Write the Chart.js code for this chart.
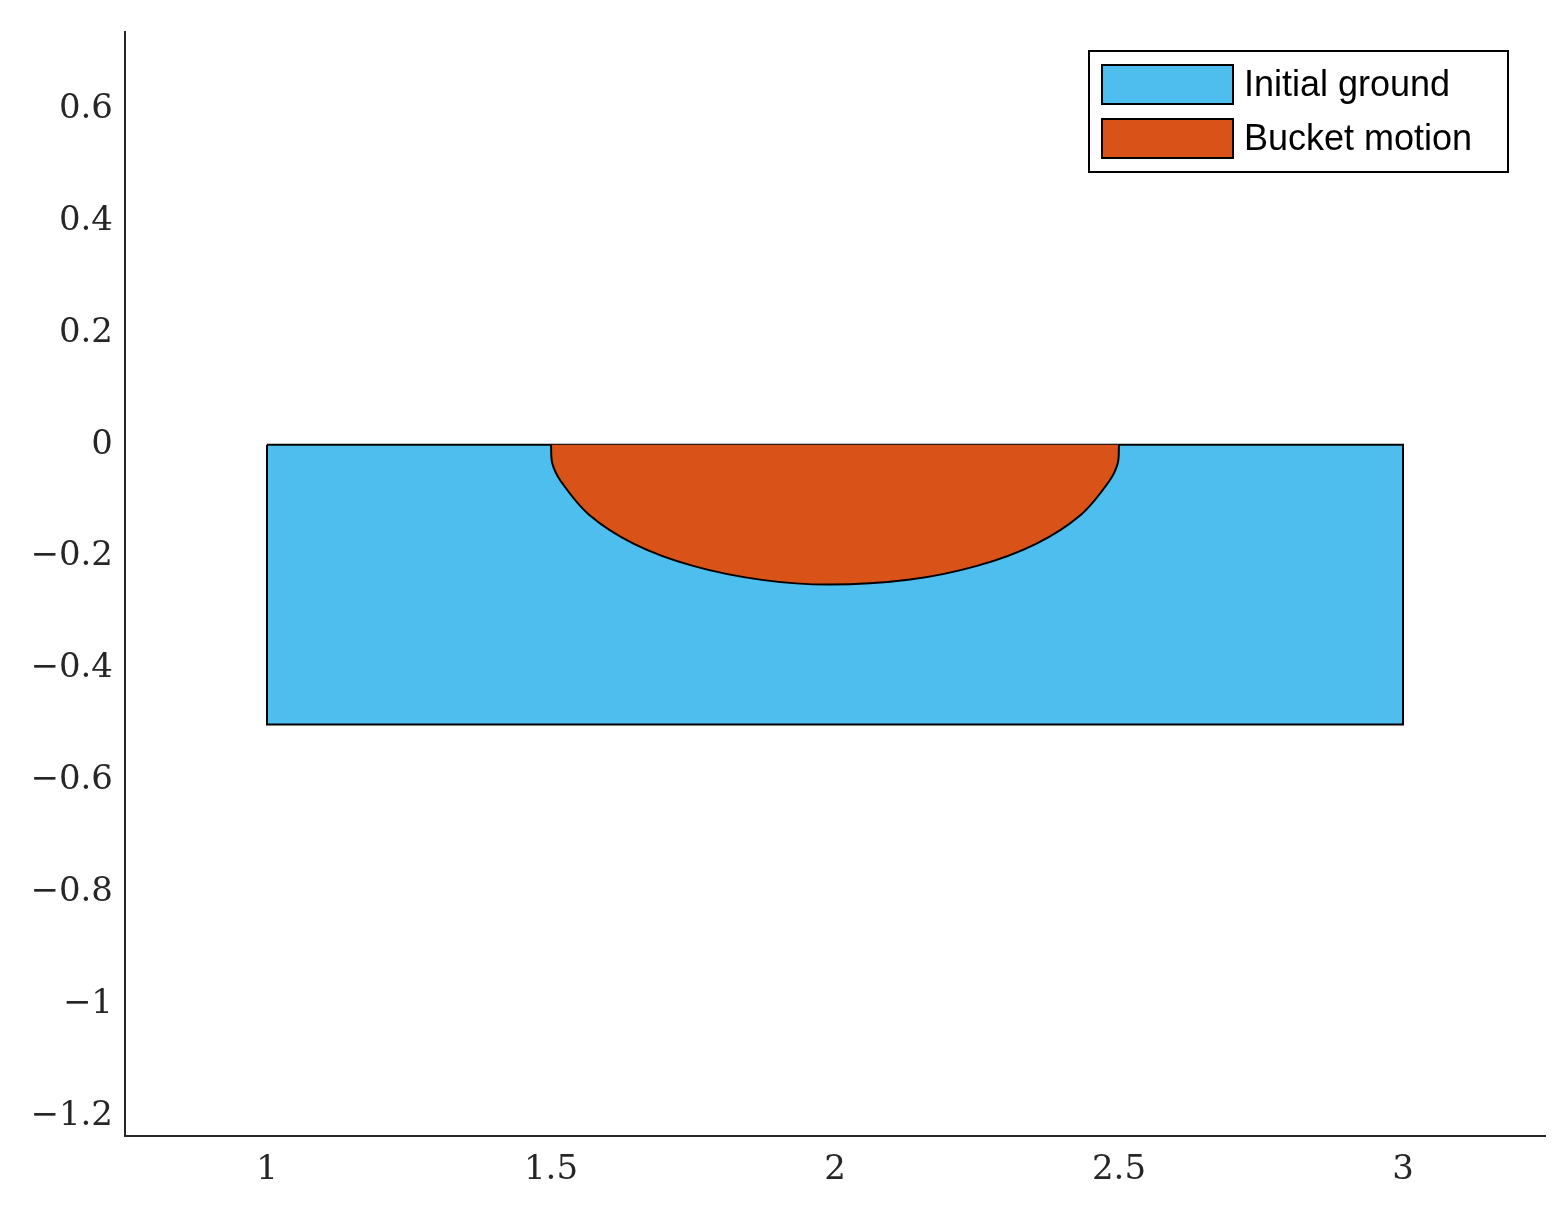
<!DOCTYPE html>
<html><head><meta charset="utf-8">
<script src="https://cdn.jsdelivr.net/npm/chart.js@4"></script>
<style>body{margin:0;background:#fff}#w{width:1555px;height:1209px}</style>
</head><body><div id="w"><canvas id="c"></canvas></div>
<script>
const seriesNames = ["Initial ground", "Bucket motion"];
const groundX = [1, 1, 3, 3, 1];
const groundY = [0, -0.5, -0.5, 0, 0];
const groundBottomX = [1, 3];
const groundBottomY = [-0.5, -0.5];
const bucketX = [1.5, 1.5021, 1.517, 1.567, 1.646, 1.75, 1.871, 1.99, 2.129, 2.25, 2.354, 2.433, 2.483, 2.4979, 2.5];
const bucketY = [0, -0.0326, -0.0647, -0.125, -0.177, -0.2165, -0.2415, -0.25, -0.2415, -0.2165, -0.177, -0.125, -0.0647, -0.0326, 0];
const xTicks = [1, 1.5, 2, 2.5, 3];
const yTicks = [0.6, 0.4, 0.2, 0, -0.2, -0.4, -0.6, -0.8, -1, -1.2];
const colors = ["#4DBEEE", "#D95319"];

const pts = (xs, ys) => xs.map((x, i) => ({x, y: ys[i]}));
const serif = "'DejaVu Serif', serif";

const legendPlugin = {
  id: 'boxLegend',
  afterDraw(chart) {
    const ctx = chart.ctx;
    ctx.save();
    ctx.strokeStyle = '#000'; ctx.lineWidth = 2;
    ctx.fillStyle = '#fff';
    ctx.fillRect(1089, 51, 419, 121);
    ctx.strokeRect(1089, 51, 419, 121);
    ctx.font = "36px 'Liberation Sans', Arial, sans-serif";
    ctx.textBaseline = 'middle';
    seriesNames.forEach((n, i) => {
      const y = 65 + i * 54;
      ctx.fillStyle = colors[i];
      ctx.fillRect(1102, y, 131, 39);
      ctx.strokeRect(1102, y, 131, 39);
      ctx.fillStyle = '#000';
      ctx.fillText(n, 1244, y + 21);
    });
    ctx.restore();
  }
};

new Chart(document.getElementById('c'), {
  type: 'scatter',
  data: { datasets: [
    { label: seriesNames[0], data: pts(groundBottomX, groundBottomY), showLine: true, fill: {value: 0},
      backgroundColor: colors[0], borderWidth: 0, pointRadius: 0, order: 3, tension: 0 },
    { label: seriesNames[0] + ' outline', data: pts(groundX, groundY), showLine: true, fill: false,
      borderColor: '#000', borderWidth: 2, pointRadius: 0, order: 2, tension: 0 },
    { label: seriesNames[1], data: pts(bucketX, bucketY), showLine: true, fill: {value: 0},
      backgroundColor: colors[1], borderColor: '#000', borderWidth: 2, pointRadius: 0, order: 1,
      tension: 0.3 }
  ]},
  options: {
    responsive: true, maintainAspectRatio: false, animation: false,
    layout: { padding: { top: 0, right: 10, left: 0, bottom: 0 } },
    plugins: { legend: { display: false }, tooltip: { enabled: false } },
    scales: {
      x: { type: 'linear', min: 0.75, max: 3.25,
        afterBuildTicks: s => { s.ticks = xTicks.map(v => ({value: v})); },
        afterFit: s => { s.height = 73; },
        grid: { display: false, drawTicks: false },
        border: { color: '#262626', width: 2 },
        ticks: { color: '#262626', font: { family: serif, size: 34 }, padding: 14, maxRotation: 0,
          callback: v => String(v) } },
      y: { type: 'linear', min: -1.236, max: 0.7375,
        afterBuildTicks: s => { s.ticks = yTicks.map(v => ({value: v})); },
        afterFit: s => { s.width = 125; },
        grid: { display: false, drawTicks: false },
        border: { color: '#262626', width: 2 },
        ticks: { color: '#262626', font: { family: serif, size: 34 }, padding: 12,
          callback: v => (v < 0 ? '\u2212' : '') + String(Math.abs(Math.round(v * 10) / 10)) } }
    }
  },
  plugins: [legendPlugin]
});
</script></body></html>
